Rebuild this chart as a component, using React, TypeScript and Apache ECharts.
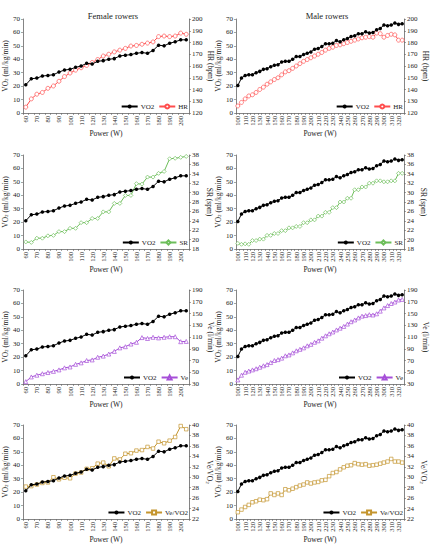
import React, { useEffect, useRef } from "react";
import * as echarts from "echarts";

const femalePower = ["60","65","70","75","80","85","90","95","100","105","110","115","120","125","130","135","140","145","150","155","160","165","170","175","180","185","190","195","200","205"];
const malePower = ["100","105","110","115","120","125","130","135","140","145","150","155","160","165","170","175","180","185","190","195","200","205","210","215","220","225","230","235","240","245","250","255","260","265","270","275","280","285","290","295","300","305","310","315","320","325"];

const femaleVO2 = [21, 25.5, 26, 27.5, 28, 28.5, 30.5, 32, 32.5, 34, 35, 37, 36.5, 38.5, 39, 40, 40.5, 42.5, 43, 43.5, 44.5, 45, 44.5, 46.5, 50.5, 50, 52, 53, 54.5, 54.5];
const femaleHR = [125, 132, 136, 137.5, 141, 143, 147, 151, 154, 156.5, 158.5, 160.5, 163, 165.5, 168.5, 170, 172, 173.5, 175, 177, 177.5, 178.5, 179.5, 180.5, 185, 185.5, 185, 185.5, 188, 187];
const femaleSR = [19.5, 19.4, 20.3, 20.3, 20.8, 20.9, 21.7, 21.7, 22.4, 22.4, 23.6, 23.6, 24.5, 24.5, 25.9, 25.9, 27.7, 27.7, 29.4, 29.4, 31.9, 31.8, 33.3, 33.3, 34.1, 34.5, 37.2, 37.3, 37.5, 37.7];
const femaleVe = [34, 42, 45, 47.5, 49.5, 51.5, 54, 57.5, 59, 63.5, 66, 70, 71, 75.5, 77.5, 81, 85.5, 91.5, 93.5, 98, 101, 109, 107.5, 109.5, 108.5, 109.5, 110.5, 110.5, 102, 102.5];
const femaleVeVO2 = [28.2, 28.3, 28.6, 28.9, 29.0, 30.0, 29.6, 29.9, 29.8, 30.7, 30.9, 31.6, 31.7, 32.6, 32.8, 32.1, 33.6, 33.4, 34.5, 34.6, 35.1, 35.2, 35.8, 35.5, 36.8, 36.5, 37.0, 37.7, 39.8, 39.2];

const maleVO2 = [20.5, 26, 28, 28.5, 28.5, 30, 31, 32.5, 33, 34.5, 35.5, 36, 38, 38.5, 38.5, 40, 42, 42, 43.5, 44.5, 45.5, 47.5, 48, 49.5, 51.5, 51.5, 52, 54, 53, 54.5, 55.5, 57, 57.5, 59, 59, 60.5, 59.5, 60, 62, 63, 65.5, 65, 65.5, 67, 66, 66.5];
const maleHR = [126, 129, 132, 134.5, 135.5, 137.5, 140, 142, 144.5, 146.5, 148.5, 150, 152.5, 155, 156, 158, 160, 162, 164, 165.5, 167, 168.5, 170, 171.5, 173.5, 175, 176, 177.5, 178, 179, 180, 181, 182, 183, 184, 184.5, 185, 184.5, 188, 187.5, 184.5, 186, 187, 186.5, 182, 182];
const maleSR = [19.2, 19.0, 19.1, 19.0, 19.8, 19.8, 20.1, 20.1, 20.9, 20.9, 21.3, 21.3, 21.9, 21.9, 22.5, 22.5, 22.8, 22.8, 23.6, 23.6, 24.2, 24.2, 25.0, 25.0, 25.8, 25.8, 26.8, 26.8, 28.0, 28.0, 28.8, 28.8, 30.6, 30.6, 31.2, 31.2, 32.0, 32.0, 32.5, 32.5, 32.3, 32.3, 32.5, 32.5, 34.1, 34.1];
const maleVe = [37, 45, 50, 52, 54, 56, 58.5, 61, 63, 66.5, 70, 71.5, 74, 78, 79.5, 83, 86.5, 89, 91.5, 95, 97.5, 101, 103.5, 108, 112, 115.5, 118.5, 122, 125, 128, 132, 136, 139, 142.5, 145.5, 146.5, 148, 147.5, 149.5, 154, 159.5, 163.5, 167, 169.5, 173, 174];
const maleVeVO2 = [23.3, 23.8, 24.3, 24.7, 25.2, 25.4, 25.7, 25.6, 25.8, 26.9, 26.6, 26.9, 26.6, 27.7, 27.5, 27.8, 28.1, 28.4, 28.6, 29.0, 28.8, 29.0, 29.1, 29.4, 29.5, 30.2, 30.8, 31.0, 31.5, 31.9, 32.2, 32.3, 32.7, 32.5, 32.4, 32.5, 32.2, 32.3, 32.4, 32.6, 32.8, 33.0, 33.5, 33.0, 33.0, 32.8];

const hrTicks = [120, 130, 140, 150, 160, 170, 180, 190, 200];
const srTicks = [18, 20, 22, 24, 26, 28, 30, 32, 34, 36, 38];
const veTicks = [30, 50, 70, 90, 110, 130, 150, 170, 190];
const veVO2Ticks = [22, 24, 26, 28, 30, 32, 34, 36, 38, 40];

const FONT = "Liberation Serif";
const TXT = "#222";
const AX = "#666";

type RowDef = {
  name: string;
  axisName: string;
  ticks: number[];
  color: string;
  symbol: string;
  female: number[];
  male: number[];
};

const rows: RowDef[] = [
  { name: "HR", axisName: "HR (bpm)", ticks: hrTicks, color: "#FF4D4D", symbol: "circle", female: femaleHR, male: maleHR },
  { name: "SR", axisName: "SR (spm)", ticks: srTicks, color: "#6DBE5A", symbol: "diamond", female: femaleSR, male: maleSR },
  { name: "Ve", axisName: "Ve (l/min)", ticks: veTicks, color: "#A64FD8", symbol: "triangle", female: femaleVe, male: maleVe },
  { name: "Ve/VO2", axisName: "Ve/VO{sub|2}", ticks: veVO2Ticks, color: "#C4952E", symbol: "rect", female: femaleVeVO2, male: maleVeVO2 },
];

const rowTops = [19, 155, 290, 425];
const gridH = 94;
const cols = [
  { left: 23, width: 166, cats: femalePower, vo2: femaleVO2, key: "female" as const, legendRight: 243, leftGap: 12, rightGap: 16 },
  { left: 236, width: 168, cats: malePower, vo2: maleVO2, key: "male" as const, legendRight: 28, leftGap: 10, rightGap: 15 },
];

function buildOption() {
  const grid: any[] = [];
  const xAxis: any[] = [];
  const yAxis: any[] = [];
  const series: any[] = [];
  const legend: any[] = [];
  const subRich = { sub: { fontFamily: FONT, fontSize: 5, color: TXT, verticalAlign: "bottom", padding: [3, 0, 0, 0] } };
  rows.forEach((row, r) => {
    cols.forEach((col, c) => {
      const g = r * 2 + c;
      grid.push({ left: col.left, top: rowTops[r], width: col.width, height: gridH, containLabel: false });
      xAxis.push({
        type: "category",
        gridIndex: g,
        data: col.cats,
        boundaryGap: true,
        name: "Power (W)",
        nameLocation: "middle",
        nameGap: 16,
        nameTextStyle: { fontFamily: FONT, fontSize: 7.5, color: TXT },
        axisLine: { lineStyle: { color: AX, width: 0.8 } },
        axisTick: { show: true, length: 2, interval: 0, lineStyle: { color: AX, width: 0.6 } },
        axisLabel: { rotate: 90, interval: 1, fontFamily: FONT, fontSize: 6.5, color: TXT, margin: 3 },
        splitLine: { show: false },
      });
      yAxis.push({
        type: "value",
        gridIndex: g,
        position: "left",
        min: 0,
        max: 70,
        interval: 10,
        name: "VO{sub|2} (ml/kg/min)",
        nameLocation: "middle",
        nameGap: col.leftGap,
        nameTextStyle: { fontFamily: FONT, fontSize: 7.5, color: TXT, rich: subRich },
        axisLine: { show: true, lineStyle: { color: AX, width: 0.8 } },
        axisTick: { show: true, length: 2, lineStyle: { color: AX, width: 0.6 } },
        axisLabel: { fontFamily: FONT, fontSize: 7, color: TXT, margin: 3 },
        splitLine: { show: false },
      });
      yAxis.push({
        type: "value",
        gridIndex: g,
        position: "right",
        min: row.ticks[0],
        max: row.ticks[row.ticks.length - 1],
        name: row.axisName,
        nameLocation: "middle",
        nameRotate: -90,
        nameGap: col.rightGap,
        nameTextStyle: { fontFamily: FONT, fontSize: 7.5, color: TXT, rich: subRich },
        axisLine: { show: true, lineStyle: { color: AX, width: 0.8 } },
        axisTick: { show: true, length: 2, customValues: row.ticks, lineStyle: { color: AX, width: 0.6 } },
        axisLabel: { customValues: row.ticks, fontFamily: FONT, fontSize: 7, color: TXT, margin: 3 },
        splitLine: { show: false },
      });
      series.push({
        type: "line",
        name: "VO2",
        xAxisIndex: g,
        yAxisIndex: 2 * g,
        data: col.vo2,
        symbol: "circle",
        symbolSize: 3.5,
        showAllSymbol: true,
        lineStyle: { color: "#000", width: 1 },
        itemStyle: { color: "#000" },
        z: 3,
      });
      series.push({
        type: "line",
        name: row.name,
        xAxisIndex: g,
        yAxisIndex: 2 * g + 1,
        data: col.key === "female" ? row.female : row.male,
        symbol: row.symbol,
        symbolSize: row.symbol === "rect" ? 3.5 : 4,
        showAllSymbol: true,
        lineStyle: { color: row.color, width: 1 },
        itemStyle: { color: "#fff", borderColor: row.color, borderWidth: 0.7 },
        z: 2,
      });
      legend.push({
        data: ["VO2", row.name],
        right: col.legendRight,
        top: rowTops[r] + gridH - 10,
        orient: "horizontal",
        itemWidth: 16,
        itemHeight: 5,
        itemGap: 4,
        padding: 0,
        selectedMode: false,
        textStyle: { fontFamily: FONT, fontSize: 7, color: TXT, padding: [0, 0, 0, -2] },
      });
    });
  });
  return {
    animation: false,
    backgroundColor: "#fff",
    title: [
      { text: "Female rowers", left: 108, top: 6, textAlign: "center", textStyle: { fontFamily: FONT, fontSize: 8.5, fontWeight: "normal", color: TXT } },
      { text: "Male rowers", left: 322, top: 6, textAlign: "center", textStyle: { fontFamily: FONT, fontSize: 8.5, fontWeight: "normal", color: TXT } },
    ],
    grid,
    xAxis,
    yAxis,
    legend,
    series,
  };
}

export default function App() {
  const ref = useRef<HTMLDivElement>(null);
  useEffect(() => {
    if (!ref.current) return;
    const chart = echarts.init(ref.current, undefined, { renderer: "svg" });
    chart.setOption(buildOption() as any);
    return () => chart.dispose();
  }, []);
  return <div ref={ref} style={{ position: "fixed", left: 0, top: 0, width: 431, height: 550 }} />;
}
